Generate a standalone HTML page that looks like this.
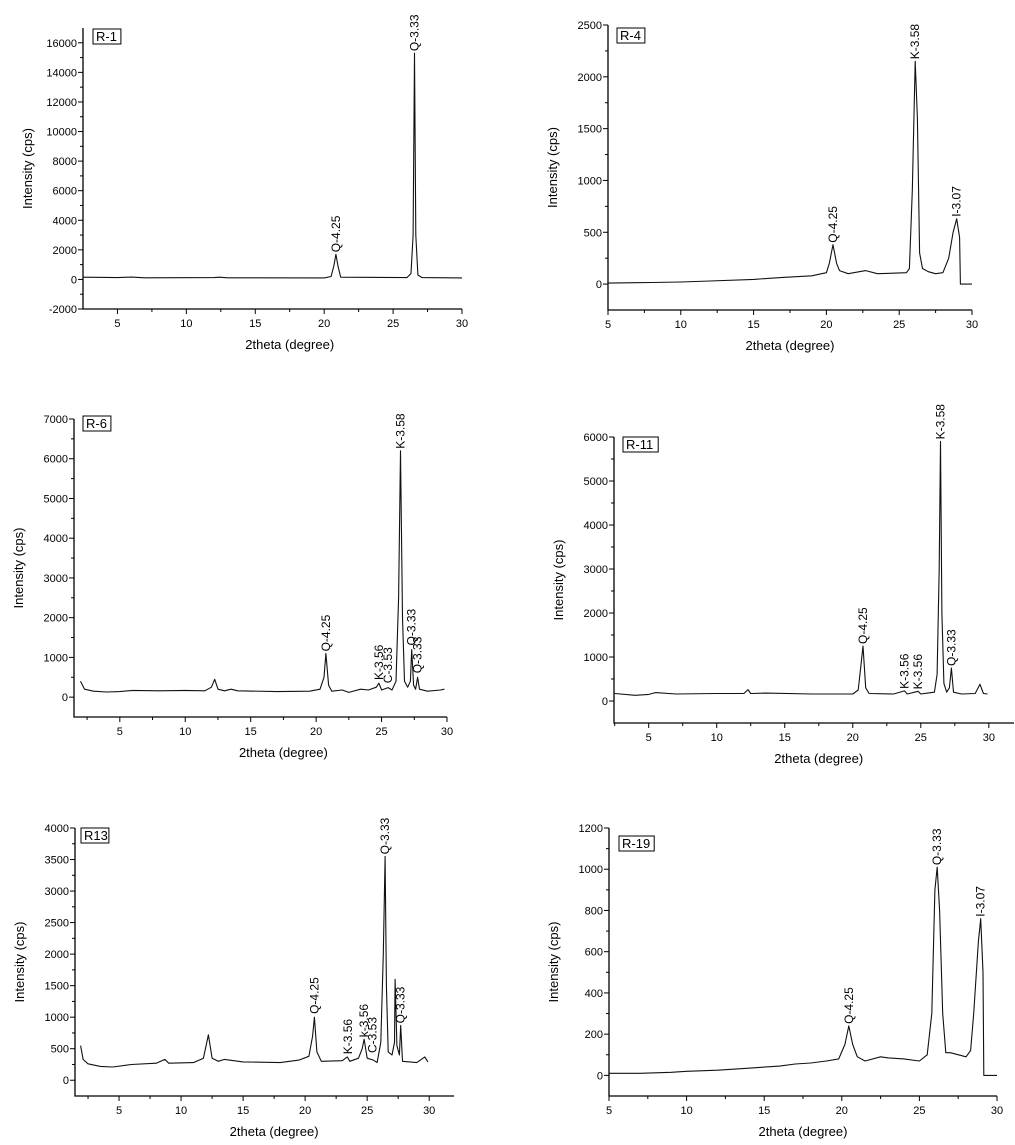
<!DOCTYPE html>
<html><head><meta charset="utf-8">
<style>
html,body{margin:0;padding:0;background:#fff;}
svg{display:block;font-family:"Liberation Sans",Arial,sans-serif;}
</style></head>
<body>
<svg id="fig" width="1015" height="1145" viewBox="0 0 1015 1145" xmlns="http://www.w3.org/2000/svg"></svg>
<script>
// ---- R-1 data ----
const r1X = [2.5,5,6,7,12,12.4,13,20,20.5,20.7,20.85,21,21.2,26,26.3,26.45,26.55,26.65,26.8,27.1,30];
const r1Y = [150,120,160,110,120,150,110,100,200,900,1700,900,150,120,400,3000,15300,3000,300,120,100];
const r1LabX = [20.85,26.55];
const r1LabY = [1700,15300];
const r1LabT = ["Q-4.25","Q-3.33"];
const r1XTicks = [5,10,15,20,25,30];
const r1YTicks = [-2000,0,2000,4000,6000,8000,10000,12000,14000,16000];
// ---- R-4 data ----
const r4X = [5,8,10,12,15,17,19,20,20.2,20.45,20.7,20.9,21.5,22.7,23.5,25.5,25.7,25.9,26.1,26.25,26.4,26.6,27,27.5,28,28.4,28.7,28.95,29.15,29.2,30];
const r4Y = [10,15,20,30,45,65,80,110,200,380,200,130,100,130,100,110,150,900,2150,1600,300,150,120,100,110,250,500,630,450,0,0];
const r4LabX = [20.45,26.1,28.95];
const r4LabY = [380,2150,630];
const r4LabT = ["Q-4.25","K-3.58","I-3.07"];
const r4XTicks = [5,10,15,20,25,30];
const r4YTicks = [0,500,1000,1500,2000,2500];
// ---- R-6 data ----
const r6X = [2,2.3,3,4,5,6,8,10,11.5,12,12.25,12.5,13,13.5,14,17,19.5,20.3,20.6,20.75,20.95,21.2,22,22.5,23.4,24,24.6,24.8,25,25.5,25.8,26.1,26.3,26.45,26.6,26.75,27,27.2,27.3,27.45,27.6,27.75,27.9,28.5,29.5,29.8];
const r6Y = [400,200,150,130,140,170,160,170,160,250,450,200,160,200,160,140,150,200,500,1100,300,150,180,120,200,180,250,350,180,240,180,400,2500,6200,2000,400,250,400,1200,300,200,500,200,150,180,200];
const r6LabX = [20.75,24.8,25.5,26.45,27.3,27.75];
const r6LabY = [1100,380,300,6200,1250,550];
const r6LabT = ["Q-4.25","K-3.56","C-3.53","K-3.58","Q-3.33","Q-3.33"];
const r6XTicks = [5,10,15,20,25,30];
const r6YTicks = [0,1000,2000,3000,4000,5000,6000,7000];
// ---- R-11 data ----
const r11X = [2.5,4,5,5.5,7,10,12,12.3,12.5,13.6,17,20,20.4,20.6,20.75,20.95,21.2,23,23.8,24,24.8,25,25.5,26,26.2,26.35,26.45,26.55,26.7,26.9,27.1,27.25,27.4,28,29,29.35,29.6,29.9];
const r11Y = [170,130,150,190,160,170,170,260,170,180,160,160,250,800,1250,300,170,160,230,160,220,160,180,200,600,3000,5900,2000,400,200,300,750,200,160,170,380,170,160];
const r11LabX = [20.75,23.8,24.8,26.45,27.25];
const r11LabY = [1250,230,220,5900,750];
const r11LabT = ["Q-4.25","K-3.56","K-3.56","K-3.58","Q-3.33"];
const r11XTicks = [5,10,15,20,25,30];
const r11YTicks = [0,1000,2000,3000,4000,5000,6000];
// ---- R13 data ----
const r13X = [1.9,2.1,2.5,3.5,4.5,6,8,8.7,9,11,11.8,12.2,12.5,13,13.5,15,18,19.5,20.3,20.6,20.75,20.95,21.3,23,23.4,23.6,24.3,24.6,24.75,25,25.5,25.8,26.1,26.3,26.45,26.55,26.7,27,27.2,27.25,27.4,27.6,27.7,27.85,29,29.65,29.9];
const r13Y = [550,330,260,220,210,250,270,330,270,280,350,720,350,300,330,290,280,320,380,700,1000,450,300,310,370,300,350,500,650,350,320,280,600,2000,3550,1500,450,400,600,1600,550,400,870,300,280,370,290];
const r13LabX = [20.75,23.45,24.75,25.45,26.45,27.7];
const r13LabY = [1020,380,650,400,3550,870];
const r13LabT = ["Q-4.25","K-3.56","k-3.56","C-3.53","Q-3.33","Q-3.33"];
const r13XTicks = [5,10,15,20,25,30];
const r13YTicks = [0,500,1000,1500,2000,2500,3000,3500,4000];
// ---- R-19 data ----
const r19X = [5,7,9,10,12,14,15,16,17,18,19,19.8,20.2,20.45,20.7,21,21.5,22.5,23,24,25,25.5,25.8,26,26.15,26.3,26.5,26.7,27,28,28.3,28.5,28.8,28.95,29.1,29.15,30];
const r19Y = [10,10,15,20,25,35,40,45,55,60,70,80,150,240,150,90,70,90,85,80,70,100,300,900,1010,800,300,110,110,90,120,300,650,760,500,0,0];
const r19LabX = [20.45,26.15,28.95];
const r19LabY = [240,1010,760];
const r19LabT = ["Q-4.25","Q-3.33","I-3.07"];
const r19XTicks = [5,10,15,20,25,30];
const r19YTicks = [0,200,400,600,800,1000,1200];

const NS = "http://www.w3.org/2000/svg";
const svg = document.getElementById('fig');
function mk(tag, attrs, parent){
  const e = document.createElementNS(NS, tag);
  for (const k in attrs) e.setAttribute(k, attrs[k]);
  (parent||svg).appendChild(e);
  return e;
}
const panels = [
  {id:'r1', title:'R-1', X:r1X, Y:r1Y, LX:r1LabX, LY:r1LabY, LT:r1LabT, XT:r1XTicks, YT:r1YTicks, xd:[2.5,30], px:[83,462], yd:[-2000,17000], py:[309,28], box:[93,29]},
  {id:'r4', title:'R-4', X:r4X, Y:r4Y, LX:r4LabX, LY:r4LabY, LT:r4LabT, XT:r4XTicks, YT:r4YTicks, xd:[5,30], px:[608,972], yd:[-250,2500], py:[310,25], box:[617,28]},
  {id:'r6', title:'R-6', X:r6X, Y:r6Y, LX:r6LabX, LY:r6LabY, LT:r6LabT, XT:r6XTicks, YT:r6YTicks, xd:[1.5,30], px:[74,447], yd:[-500,7000], py:[717,419], box:[83,416]},
  {id:'r11', title:'R-11', X:r11X, Y:r11Y, LX:r11LabX, LY:r11LabY, LT:r11LabT, XT:r11XTicks, YT:r11YTicks, xd:[2.45,31.85], px:[614,1014], yd:[-500,6000], py:[723,437], box:[623,437]},
  {id:'r13', title:'R13', X:r13X, Y:r13Y, LX:r13LabX, LY:r13LabY, LT:r13LabT, XT:r13XTicks, YT:r13YTicks, xd:[1.45,32], px:[75,454], yd:[-250,4000], py:[1096,828], box:[81,828]},
  {id:'r19', title:'R-19', X:r19X, Y:r19Y, LX:r19LabX, LY:r19LabY, LT:r19LabT, XT:r19XTicks, YT:r19YTicks, xd:[5,30], px:[609,997], yd:[-100,1200], py:[1096,828], box:[619,836]}
];
panels.forEach(p => {
  const g = mk('g', {});
  
  
  const sx = v => p.px[0] + (v - p.xd[0]) * (p.px[1] - p.px[0]) / (p.xd[1] - p.xd[0]);
  const sy = v => p.py[0] + (v - p.yd[0]) * (p.py[1] - p.py[0]) / (p.yd[1] - p.yd[0]);
  const L = p.px[0], R = p.px[1], B = p.py[0], T = p.py[1];
  // axes
  const ax = mk('path', {d:`M${L},${T}V${B}H${R}`, fill:'none', stroke:'#000', 'stroke-width':1.3}, g);
  
  
  // y ticks
  const ystep = p.YT[1] - p.YT[0];
  p.YT.forEach(v => {
    const y = sy(v);
    mk('line', {x1:L-5, x2:L, y1:y, y2:y, stroke:'#000'}, g);
    const t = mk('text', {x:L-6, y:y+4, 'font-size':11, 'text-anchor':'end', fill:'#000'}, g);
    t.textContent = v;
    
    
    const m = v + ystep/2;
    if (m < p.yd[1]) { const ym = sy(m); mk('line', {x1:L-3, x2:L, y1:ym, y2:ym, stroke:'#000'}, g); }
    const m2 = v - ystep/2;
    if (v === p.YT[0] && m2 > p.yd[0]) { const ym = sy(m2); mk('line', {x1:L-3, x2:L, y1:ym, y2:ym, stroke:'#000'}, g); }
  });
  // x ticks
  p.XT.forEach(v => {
    const x = sx(v);
    mk('line', {x1:x, x2:x, y1:B, y2:B+5, stroke:'#000'}, g);
    const t = mk('text', {x:x, y:B+18, 'font-size':11, 'text-anchor':'middle', fill:'#000'}, g);
    t.textContent = v;
    
    
    [v-2.5, v+2.5].forEach(m => {
      if (m > p.xd[0] && m < p.xd[1] && (m === v+2.5 || v === p.XT[0])) {
        const xm = sx(m); mk('line', {x1:xm, x2:xm, y1:B, y2:B+3, stroke:'#000'}, g);
      }
    });
  });
  // axis titles
  const cx = (sx(p.XT[0]) + sx(p.XT[p.XT.length-1]))/2;
  const xt = mk('text', {x:cx, y:B+40, 'font-size':13, 'text-anchor':'middle', fill:'#000'}, g);
  xt.textContent = '2theta (degree)';
  
  
  const cy = (T + B)/2, yx = L - 51;
  const yt = mk('text', {x:yx, y:cy, 'font-size':13, 'text-anchor':'middle', fill:'#000', transform:`rotate(-90 ${yx} ${cy})`}, g);
  yt.textContent = 'Intensity (cps)';
  
  
  // series
  let d = '';
  p.X.forEach((v, i) => { d += (i ? 'L' : 'M') + sx(v).toFixed(1) + ',' + sy(p.Y[i]).toFixed(1); });
  const line = mk('path', {d:d, fill:'none', stroke:'#111', 'stroke-width':1.1, 'stroke-linejoin':'round'}, g);
  
  
  // peak labels
  p.LX.forEach((v, i) => {
    const x = sx(v), y = sy(p.LY[i]) - 2;
    const lt = mk('text', {x:x+4, y:y, 'font-size':12, 'text-anchor':'start', fill:'#000', transform:`rotate(-90 ${x+4} ${y})`}, g);
    lt.textContent = p.LT[i];
    
    
  });
  // title box
  const bw = p.title.length * 7.3 + 6;
  const rb = mk('rect', {x:p.box[0], y:p.box[1], width:bw, height:15, fill:'#fff', stroke:'#000', 'stroke-width':1}, g);
  
  
  const st = mk('text', {x:p.box[0]+3, y:p.box[1]+12, 'font-size':13, fill:'#000'}, g);
  st.textContent = p.title;
  
  
});
</script>
</body></html>
